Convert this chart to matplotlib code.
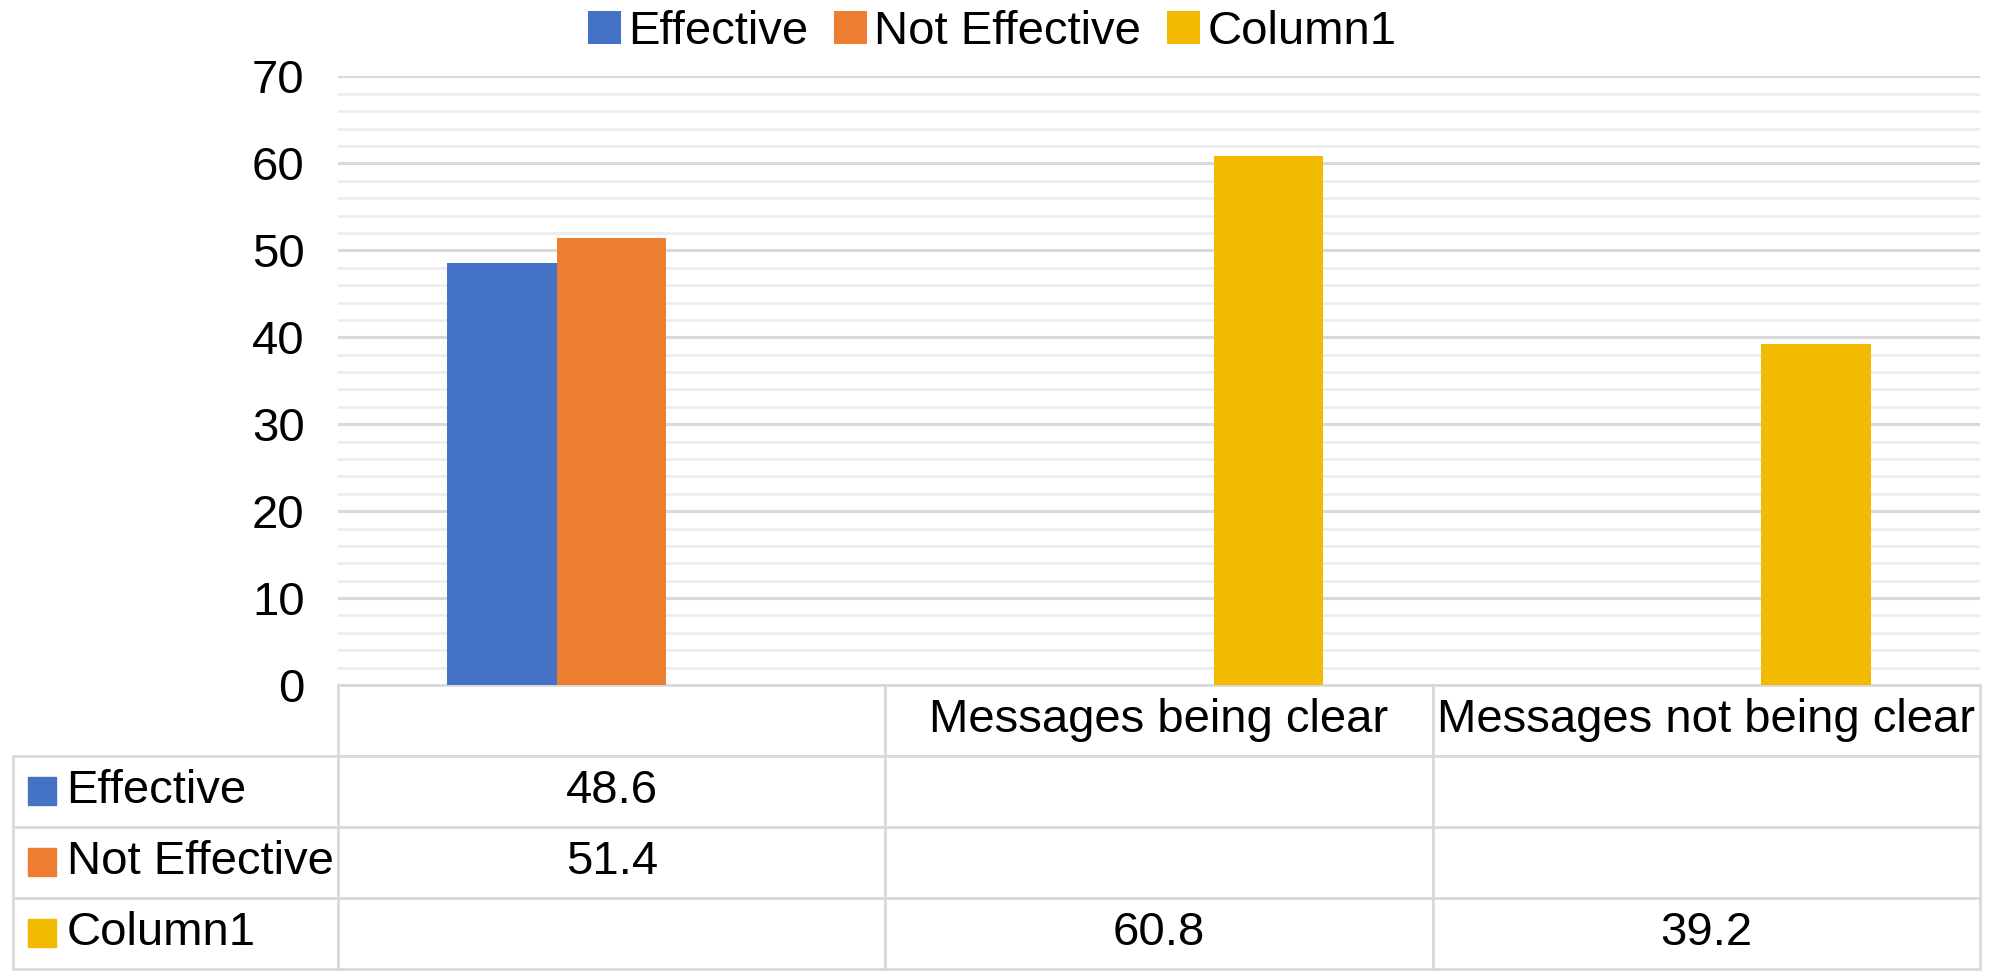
import numpy as np
import matplotlib
matplotlib.use("Agg")
import matplotlib.pyplot as plt
from matplotlib.patches import Rectangle

plt.rcParams['font.family'] = ['Liberation Sans', 'DejaVu Sans']

# data
categories = ["", "Messages being clear", "Messages not being clear"]
series_names = ["Effective", "Not Effective", "Column1"]
effective = [48.6, np.nan, np.nan]
not_effective = [51.4, np.nan, np.nan]
column1 = [np.nan, 60.8, 39.2]
colors = ["#4472C4", "#ED7D31", "#F2BA00"]

series = [effective, not_effective, column1]
grid_col = "#D9D9D9"
fs = 34

fig = plt.figure(figsize=(20, 9.77), dpi=100)
ax = fig.add_axes([0.169, 0.2989, 0.821, 0.6228])

x = np.arange(len(categories))
width = 0.2
for i, (vals, name, c) in enumerate(zip(series, series_names, colors)):
    ax.bar(x + (i - 1) * width, vals, width, color=c, label=name, zorder=3)

ax.set_xlim(-0.5, 2.5)
ax.set_ylim(0, 70)
ax.set_yticks(np.arange(0, 71, 10))
ax.set_yticks(np.arange(0, 71, 2), minor=True)
ax.grid(axis='y', which='major', color=grid_col, lw=2.2, zorder=0)
ax.grid(axis='y', which='minor', color="#EDEDED", lw=2.0, zorder=0)
ax.tick_params(axis='y', which='both', length=0, labelsize=fs, pad=24)
ax.set_xticks([])
for s in ax.spines.values():
    s.set_visible(False)

# data table below the plot: header row (blank corner + categories), then one row per series
cell_text = [[""] + categories]
for name, vals in zip(series_names, series):
    cell_text.append([name] + ["" if np.isnan(v) else f"{v:.1f}" for v in vals])

tbl = ax.table(cellText=cell_text, colWidths=[325, 547, 547, 547],
               cellLoc='center', bbox=[-0.198, -0.4667, 1.198, 0.4667])
tbl.auto_set_font_size(False)
tbl.set_fontsize(fs)
for (r, c), cell in tbl.get_celld().items():
    cell.set_edgecolor(grid_col)
    cell.set_linewidth(2.0)
    if r == 0 and c == 0:
        cell.visible_edges = 'open'
    if c == 0 and r > 0:
        cell._loc = 'left'
        cell.PAD = 0.165
        cell.get_text().set_ha('left')

# colour keys in the row labels
n_rows = len(cell_text)
row_h = 0.4667 / n_rows
for i, c in enumerate(colors):
    yc = -0.4667 + (n_rows - (i + 1) - 0.5) * row_h
    ax.add_patch(Rectangle((-0.1888, yc - 0.023), 0.01705, 0.046, color=c,
                           transform=ax.transAxes, clip_on=False))

fig.legend(loc='upper center', bbox_to_anchor=(0.496, 1.033), ncol=3, frameon=False,
           fontsize=fs, handlelength=0.7, handleheight=0.7, handletextpad=0.15,
           columnspacing=0.55)

fig.savefig("out.png", dpi=100)
